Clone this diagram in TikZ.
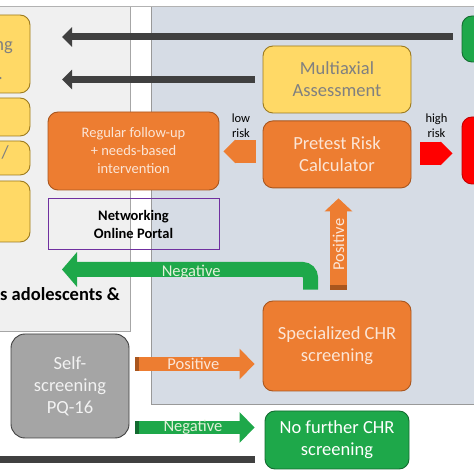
\documentclass[tikz,border=0pt]{standalone}
\usepackage{fontspec}
\setmainfont{Carlito}
\usepackage{tikz}
\usetikzlibrary{arrows.meta, positioning, calc}
\definecolor{boxOrange}{HTML}{ED7D31}
\definecolor{edgeOrange}{HTML}{A9561E}
\definecolor{textCream}{HTML}{FBE5D6}
\definecolor{boxYellow}{HTML}{FFD966}
\definecolor{edgeYellow}{HTML}{9C7A1E}
\definecolor{boxGreen}{HTML}{1EA84A}
\definecolor{edgeGreen}{HTML}{136B30}
\definecolor{textGreen}{HTML}{E2F0D9}
\definecolor{boxRed}{HTML}{FF0000}
\definecolor{edgeRed}{HTML}{C00000}
\definecolor{boxGray}{HTML}{A5A5A5}
\definecolor{darkArrow}{HTML}{404040}
\definecolor{panelLeft}{HTML}{F0F0F0}
\definecolor{panelRight}{HTML}{D6DCE5}
\definecolor{portalPurple}{HTML}{7030A0}
\tikzstyle{flowbox} = [rectangle, rounded corners=10pt, draw, line width=0.9pt,
  align=center, inner sep=2pt, font=\fontsize{18.5}{22}\selectfont]
\tikzstyle{orangebox} = [flowbox, fill=boxOrange, draw=edgeOrange, text=textCream]
\tikzstyle{yellowbox} = [flowbox, fill=boxYellow, draw=edgeYellow, text=gray]
\tikzstyle{greenbox} = [flowbox, fill=boxGreen, draw=edgeGreen, text=white]
\tikzstyle{redbox} = [flowbox, fill=boxRed, draw=edgeRed]
\tikzstyle{graybox} = [flowbox, rounded corners=14pt, fill=boxGray, draw=darkArrow, text=white!95!black]
\tikzstyle{darkarw} = [-{Triangle[length=10pt,width=19pt]}, line width=7pt, color=darkArrow]
\tikzstyle{fatarw} = [-{Triangle[length=15pt,width=30pt]}, line width=14pt]
\tikzstyle{tagarw} = [-{Triangle[length=12pt,width=23pt]}, line width=23pt]
\tikzstyle{arwlabel} = [font=\fontsize{16.5}{20}\selectfont, inner sep=0pt]
\tikzstyle{risklabel} = [font=\fontsize{12.5}{15}\selectfont, align=center, text=black, inner sep=0pt, outer sep=0pt]

\begin{document}
\begin{tikzpicture}[x=1pt, y=1pt]
  \useasboundingbox (0,0) rectangle (474,474);
  \clip (0,0) rectangle (474,474);

  % Panels
  \draw[fill=panelLeft, draw=gray!70] (-10,143) rectangle (130,468);
  \draw[fill=panelRight, draw=gray!80] (151,70) rectangle (484,468);
  \draw[gray!60] (0,468) -- (474,468);

  % Left column (cut off)
  \foreach \nm/\cy/\bh in {ya/420/78, yb/357/38, yc/316/34, yd/262.5/61} {
    \node[yellowbox, minimum width=70, minimum height=\bh] (\nm) at (-5,\cy) {};
  }
  \node[anchor=east, inner sep=0, text=gray, font=\fontsize{18.5}{22}\selectfont] (yatext) at (13,426) {ng};
  \node[anchor=east, inner sep=0, text=gray, font=\fontsize{18.5}{22}\selectfont] (yadot) at (3,395) {.};
  \node[anchor=east, inner sep=0, text=gray, font=\fontsize{18.5}{22}\selectfont] (yctext) at (9,322) {r /};
  \node[anchor=east, inner sep=0, font=\bfseries\fontsize{18.5}{22}\selectfont] (poplabel) at (120,180) {s adolescents \&};

  % Right column (cut off)
  \node[greenbox, minimum width=68, minimum height=46] (gtop) at (496,435) {};
  \node[redbox, minimum width=68, minimum height=67] (rbox) at (496,323.5) {};

  % Assessment
  \node[yellowbox, minimum width=148, minimum height=67] (multi) at (337,394.5) {Multiaxial\\Assessment};
  \node[orangebox, minimum width=148, minimum height=67, below=7pt of multi] (pretest) {Pretest Risk\\Calculator};
  \node[orangebox, font=\fontsize{14.5}{18}\selectfont, minimum width=171, minimum height=78] (regular) at (133.5,323) {Regular follow-up\\+ needs-based\\intervention};
  \node[draw=portalPurple, line width=0.9pt, align=center, font=\bfseries\fontsize{14.5}{18}\selectfont,
    minimum width=171, minimum height=51, below=8pt of regular] (portal) {Networking\\Online Portal};

  % Screening
  \node[orangebox, minimum width=148, minimum height=90] (spec) at (337,128) {Specialized CHR\\screening};
  \node[greenbox, minimum width=144, minimum height=58] (nofur) at (337,34) {No further CHR\\screening};
  \node[graybox, minimum width=118, minimum height=104] (selfscr) at (70,88) {Self-\\screening\\PQ-16};

  \coordinate (lefttip) at (62,0);
  \coordinate (negend) at (62,204.5);
  \coordinate (barend) at (-5,14.5);

  % Arrows
  \draw[darkarw, shorten <=9pt] ([yshift=2pt]gtop.west) -- ([yshift=2pt]gtop.west -| lefttip);
  \draw[darkarw, shorten <=8pt] (multi.west) -- (multi.west -| lefttip);
  \draw[tagarw, boxOrange, shorten <=7pt, shorten >=4pt] ([yshift=3pt]pretest.west) -- ([yshift=3pt]pretest.west -| regular.east)
    node[midway, above=14pt, risklabel] {low\\risk};
  \draw[tagarw, boxRed, shorten <=9pt, shorten >=9pt] ([yshift=1pt]pretest.east) -- ([yshift=1pt]pretest.east -| rbox.west)
    node[midway, above=16pt, risklabel] {high\\risk};
  \draw[line width=17pt, boxOrange, -{Triangle[length=13pt,width=27pt]}, shorten <=11pt, shorten >=10pt]
    ([xshift=1.5pt]spec.north) -- ([xshift=1.5pt]pretest.south) node[midway, sloped, arwlabel, text=textCream] {Positive};
  \draw[line width=17pt, edgeOrange] ([xshift=1.5pt,yshift=11pt]spec.north) -- ++(0,5);
  \draw[line width=15pt, boxGreen, rounded corners=8pt, -{Triangle[length=15pt,width=34pt]}, shorten <=11pt]
    ([xshift=-26.5pt]spec.north) |- (negend) node[pos=0.74, yshift=-2.5pt, arwlabel, text=textGreen] {Negative};
  \draw[fatarw, boxOrange, shorten <=6pt, shorten >=8pt] ([yshift=22pt]selfscr.east) -- ([yshift=22pt]selfscr.east -| spec.west)
    node[pos=0.48, arwlabel, text=textCream] {Positive};
  \draw[line width=14pt, edgeOrange] ([xshift=6pt,yshift=22pt]selfscr.east) -- ++(4,0);
  \draw[fatarw, boxGreen, line width=13pt, shorten <=6pt, shorten >=10pt] ([yshift=-41.5pt]selfscr.east) -- ([yshift=-41.5pt]selfscr.east -| nofur.west)
    node[pos=0.47, arwlabel, text=textGreen] {Negative};
  \draw[line width=13pt, edgeGreen] ([xshift=6pt,yshift=-41.5pt]selfscr.east) -- ++(4,0);
  \draw[line width=7pt, darkArrow, shorten <=10pt] (nofur.west |- barend) -- (barend);
\end{tikzpicture}
\end{document}
